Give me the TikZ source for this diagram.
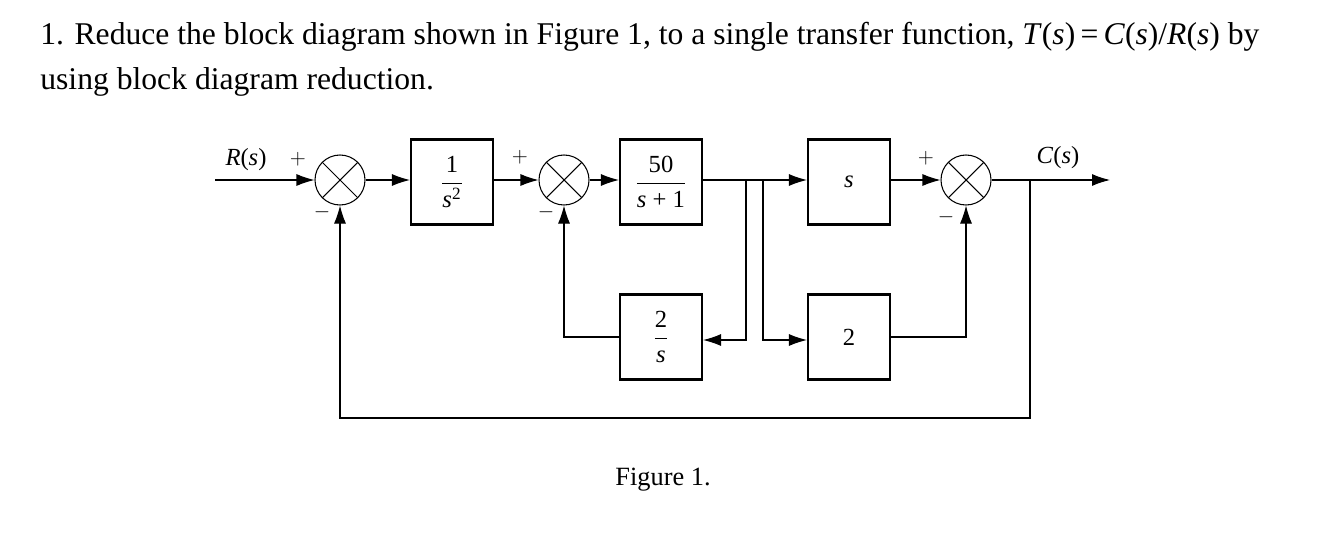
\documentclass[tikz,border=0pt]{standalone}
\usepackage{amsmath}
\usepackage{fontspec}
\setmainfont{Liberation Serif}
\usetikzlibrary{positioning,arrows.meta}
\newcommand{\iv}[1]{\textit{#1}}
\tikzstyle{line} = [draw, -{Latex[length=3.6mm,width=2.4mm]}, semithick]
\tikzstyle{wire} = [draw, semithick]
\tikzstyle{block} = [draw, rectangle, very thick, minimum width=16.4mm, minimum height=17mm, inner sep=0pt, font=\fontsize{14}{16}\selectfont]
\tikzstyle{sum} = [draw, circle, semithick, minimum size=10mm, inner sep=0pt, path picture={\draw (path picture bounding box.north west) -- (path picture bounding box.south east) (path picture bounding box.north east) -- (path picture bounding box.south west);}]
\tikzstyle{sgn} = [font=\fontsize{12}{14}\selectfont, inner sep=1pt]
\begin{document}
\begin{tikzpicture}[x=0.2mm, y=-0.2mm]
\useasboundingbox (0,0) rectangle (1344,542);
% texto
\node [anchor=base west, inner sep=0pt, font=\fontsize{18}{22}\selectfont] (tit1) at (40,45) {1. Reduce the block diagram shown in Figure 1, to a single transfer function, \iv{T}(\iv{s})\,=\,\iv{C}(\iv{s})/\iv{R}(\iv{s}) by};
\node [anchor=base west, inner sep=0pt, font=\fontsize{18}{22}\selectfont] (tit2) at (40,90) {using block diagram reduction.};
% caminho direto
\node [sum] (sum1) at (340,180) {};
\node [block] (g1) at (452,182) {$\dfrac{\text{1}}{\text{\iv{s}}^{\text{2}}}$};
\node [sum] (sum2) at (564,180) {};
\node [block] (g2) at (661,182) {$\dfrac{\text{50}}{\text{\iv{s} + 1}}$};
\node [block] (g3) at (849,182) {\iv{s}};
\node [sum] (sum3) at (966,180) {};
% realimentacao
\node [block] (h1) at (661,337) {$\dfrac{\text{2}}{\text{\iv{s}}}$};
\node [block] (h2) at (849,337) {2};
% pontos
\coordinate (in) at (215,180);
\coordinate (out) at (1110,180);
\coordinate (b1) at (746,180);
\coordinate (b2) at (763,180);
\coordinate (b3) at (1030,180);
% rotulos
\node [sgn, font=\fontsize{14}{16}\selectfont] (rs) at (246,160) {\iv{R}(\iv{s})};
\node [sgn, font=\fontsize{14}{16}\selectfont] (cs) at (1058,158) {\iv{C}(\iv{s})};
\node [sgn] at (298,159) {$+$};
\node [sgn] at (322,212) {$-$};
\node [sgn] at (520,157) {$+$};
\node [sgn] at (546,212) {$-$};
\node [sgn] at (926,158) {$+$};
\node [sgn] at (946,217) {$-$};
\node [font=\fontsize{15}{18}\selectfont] (fig) at (663,480) {Figure 1.};
%arrows
\path [line] (in) -- (sum1);
\path [line] (sum1) -- (g1.west |- sum1);
\path [line] (g1.east |- sum2) -- (sum2);
\path [line] (sum2) -- (g2.west |- sum2);
\path [wire] (g2.east |- sum2) -- (b1);
\path [line] (b1) -- (g3.west |- b1);
\path [line] (g3.east |- sum3) -- (sum3);
\path [line] (sum3) -- (out);
\path [line] (b1) |- ([yshift=-0.6mm]h1.east);
\path [line] (b2) |- ([yshift=-0.6mm]h2.west);
\path [line] (h1.west) -| (sum2);
\path [line] (h2.east) -| (sum3);
\path [line] (b3) |- (340,418) -- (sum1);
\end{tikzpicture}
\end{document}
